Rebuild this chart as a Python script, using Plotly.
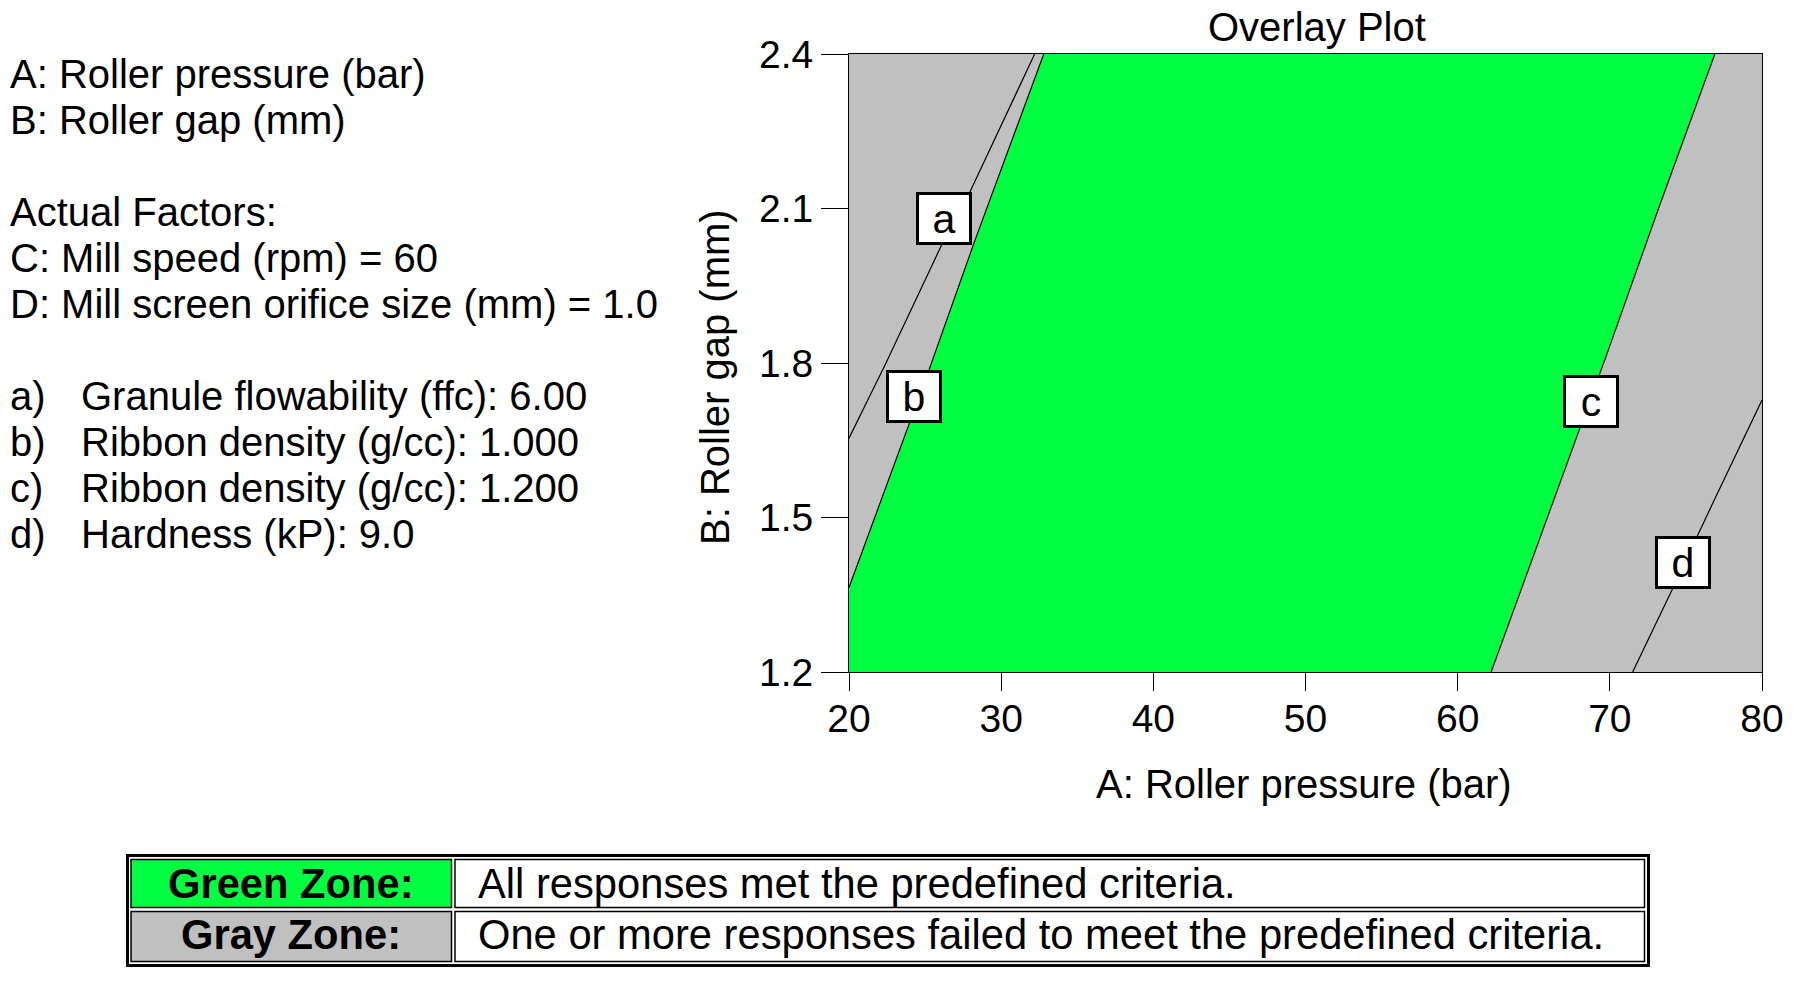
import plotly.graph_objects as go

# ---------------- data ----------------
x_ticks = [20, 30, 40, 50, 60, 70, 80]
x_tick_labels = ["20", "30", "40", "50", "60", "70", "80"]
y_ticks = [1.2, 1.5, 1.8, 2.1, 2.4]
y_tick_labels = ["1.2", "1.5", "1.8", "2.1", "2.4"]

# contour a) Granule flowability (ffc) = 6.00
line_a_A = [20.0, 22.4, 26.1, 27.9, 32.2]
line_a_B = [1.654, 1.798, 2.03, 2.129, 2.4]
# contour b) Ribbon density = 1.000
line_b_A = [20.0, 21.7, 25.3, 28.3, 32.8]
line_b_B = [1.364, 1.5, 1.79, 2.04, 2.4]
# contour c) Ribbon density = 1.200
line_c_A = [62.2, 65.9, 69.9, 73.2, 76.9]
line_c_B = [1.2, 1.5, 1.825, 2.1, 2.4]
# contour d) Hardness = 9.0
line_d_A = [71.5, 74.1, 76.8, 80.0]
line_d_B = [1.2, 1.36, 1.53, 1.728]

label_names = ["a", "b", "c", "d"]
label_A = [26.24, 24.27, 68.75, 74.8]
label_B = [2.08, 1.734, 1.726, 1.412]

x_min, x_max = 20, 80
y_min, y_max = 1.2, 2.4

left_lines = [
    ("A: Roller pressure (bar)", None),
    ("B: Roller gap (mm)", None),
    ("Actual Factors:", None),
    ("C: Mill speed (rpm) = 60", None),
    ("D: Mill screen orifice size (mm) = 1.0", None),
    ("a)", "Granule flowability (ffc): 6.00"),
    ("b)", "Ribbon density (g/cc): 1.000"),
    ("c)", "Ribbon density (g/cc): 1.200"),
    ("d)", "Hardness (kP): 9.0"),
]
left_line_y = [74, 120, 212, 258, 304, 396, 442, 488, 534]

table_rows = [
    ("Green Zone:", "All responses met the predefined criteria."),
    ("Gray Zone:", "One or more responses failed to meet the predefined criteria."),
]

# ---------------- style ----------------
W, H = 1809, 982
GREEN = "#00FF40"
GRAY = "#C0C0C0"
FONT = "Liberation Sans, Arial, sans-serif"
FS = 40
FS_TABLE = 41.7
PL, PR, PT, PB = 849, 1762, 54, 672


def px(x):
    return x / W


def py(y):
    return 1 - y / H


fig = go.Figure()

# green feasible region: between contour b and contour c
green_A = [x_min] + line_b_A + line_c_A[::-1] + [x_min]
green_B = [y_min] + line_b_B + line_c_B[::-1] + [y_min]
fig.add_trace(go.Scatter(x=green_A, y=green_B, mode="lines", fill="toself",
                         fillcolor=GREEN, line=dict(width=0),
                         hoverinfo="skip", showlegend=False))

for A, B in [(line_a_A, line_a_B), (line_b_A, line_b_B),
             (line_c_A, line_c_B), (line_d_A, line_d_B)]:
    fig.add_trace(go.Scatter(x=A, y=B, mode="lines",
                             line=dict(color="black", width=1.2),
                             hoverinfo="skip", showlegend=False))

annotations = []
for name, a, b in zip(label_names, label_A, label_B):
    annotations.append(dict(x=a, y=b, xref="x", yref="y", text=name,
                            showarrow=False, font=dict(family=FONT, size=41, color="black"),
                            bgcolor="white", bordercolor="black", borderwidth=3,
                            borderpad=0, width=50, height=47,
                            xanchor="center", yanchor="middle"))

# title and axis titles
annotations.append(dict(x=px(1317), y=py(27), xref="paper", yref="paper",
                        text="Overlay Plot", showarrow=False,
                        font=dict(family=FONT, size=FS, color="black"),
                        xanchor="center", yanchor="middle"))
annotations.append(dict(x=px(1304), y=py(784), xref="paper", yref="paper",
                        text="A: Roller pressure (bar)", showarrow=False,
                        font=dict(family=FONT, size=FS, color="black"),
                        xanchor="center", yanchor="middle"))
annotations.append(dict(x=px(715), y=py(377), xref="paper", yref="paper",
                        text="B: Roller gap (mm)", showarrow=False, textangle=-90,
                        font=dict(family=FONT, size=FS, color="black"),
                        xanchor="center", yanchor="middle"))

# left text block
for (t1, t2), yy in zip(left_lines, left_line_y):
    annotations.append(dict(x=px(8), y=py(yy), xref="paper", yref="paper",
                            text=t1, showarrow=False,
                            font=dict(family=FONT, size=FS, color="black"),
                            xanchor="left", yanchor="middle"))
    if t2:
        annotations.append(dict(x=px(79), y=py(yy), xref="paper", yref="paper",
                                text=t2, showarrow=False,
                                font=dict(family=FONT, size=FS, color="black"),
                                xanchor="left", yanchor="middle"))

# legend table
shapes = []
shapes.append(dict(type="rect", xref="paper", yref="paper",
                   x0=px(127.5), x1=px(1648.5), y0=py(965.5), y1=py(855.5),
                   line=dict(color="black", width=3), fillcolor="white", layer="above"))
row_y = [(859.5, 907.5), (911.5, 961.5)]
row_fill = [GREEN, GRAY]
row_text_y = [883.5, 934]
for (lab, desc), (y0, y1), fc, ty in zip(table_rows, row_y, row_fill, row_text_y):
    shapes.append(dict(type="rect", xref="paper", yref="paper",
                       x0=px(131), x1=px(451.5), y0=py(y1), y1=py(y0),
                       line=dict(color="black", width=1.5), fillcolor=fc, layer="above"))
    shapes.append(dict(type="rect", xref="paper", yref="paper",
                       x0=px(455), x1=px(1644.5), y0=py(y1), y1=py(y0),
                       line=dict(color="black", width=1.5), fillcolor="white", layer="above"))
    annotations.append(dict(x=px(291), y=py(ty), xref="paper", yref="paper",
                            text="<b>" + lab + "</b>", showarrow=False,
                            font=dict(family=FONT, size=FS_TABLE, color="black"),
                            xanchor="center", yanchor="middle"))
    annotations.append(dict(x=px(476), y=py(ty), xref="paper", yref="paper",
                            text=desc, showarrow=False,
                            font=dict(family=FONT, size=FS_TABLE, color="black"),
                            xanchor="left", yanchor="middle"))

fig.update_layout(
    width=W, height=H, autosize=False,
    margin=dict(l=0, r=0, t=0, b=0, pad=0, autoexpand=False),
    paper_bgcolor="white", plot_bgcolor=GRAY,
    annotations=annotations, shapes=shapes,
    showlegend=False,
    xaxis=dict(domain=[PL / W, PR / W], range=[x_min, x_max], automargin=False,
               tickvals=x_ticks, ticktext=x_tick_labels,
               ticks="outside", ticklen=18, tickwidth=1, tickcolor="black",
               ticklabelstandoff=-6,
               showline=True, linecolor="black", linewidth=1, mirror=True,
               showgrid=False, zeroline=False,
               tickfont=dict(family=FONT, size=39, color="black")),
    yaxis=dict(domain=[1 - PB / H, 1 - PT / H], range=[y_min, y_max], automargin=False,
               tickvals=y_ticks, ticktext=y_tick_labels,
               ticks="outside", ticklen=27, tickwidth=1, tickcolor="black",
               showline=True, linecolor="black", linewidth=1, mirror=True,
               showgrid=False, zeroline=False,
               tickfont=dict(family=FONT, size=39, color="black")),
)

fig.write_html("out.html")
